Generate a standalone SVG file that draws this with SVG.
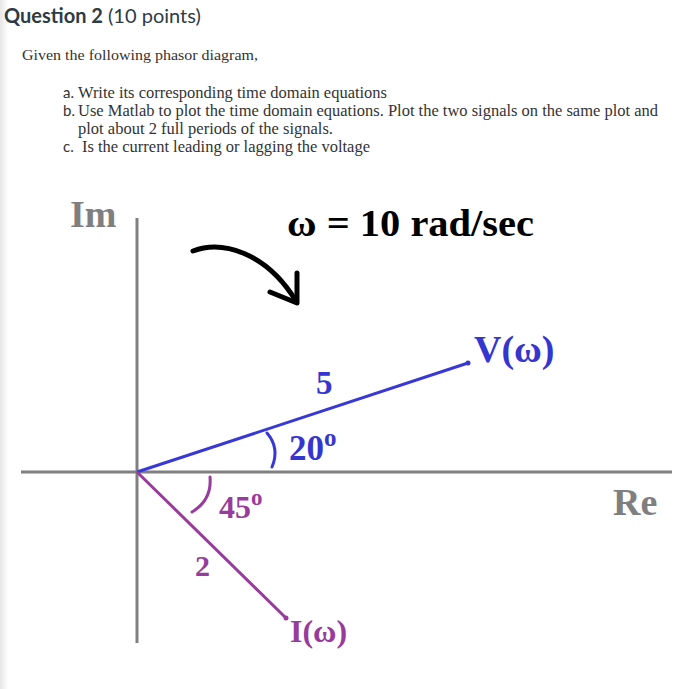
<svg xmlns="http://www.w3.org/2000/svg" width="683" height="689" viewBox="0 0 683 689">
<defs>
<linearGradient id="edge" x1="0" y1="0" x2="1" y2="0">
<stop offset="0" stop-color="#e6e6e6"/>
<stop offset="1" stop-color="#ffffff"/>
</linearGradient>
<style>
.title{font-family:Lato,"Liberation Sans",sans-serif;font-size:20px;fill:#2d3b45}
.body{font-family:"Liberation Serif","Times New Roman",serif;font-size:15.5px;fill:#333}
.list{font-family:"Liberation Serif","Times New Roman",serif;font-size:15.8px;fill:#333}
.mark{font-family:Lato,"Liberation Sans",sans-serif;font-size:15px;fill:#333}
.big{font-family:"Liberation Serif","Times New Roman",serif;font-weight:bold}
.axis{stroke:#808080;stroke-width:3;fill:none}
.vcol{fill:#3535d0}
.icol{fill:#973c9c}
</style>
</defs>
<rect width="683" height="689" fill="#ffffff"/>
<rect x="0" y="0" width="8" height="689" fill="url(#edge)"/>

<g id="header">
<text class="title" x="4" y="23"><tspan font-weight="bold">Question 2</tspan> (10 points)</text>
<text class="body" x="22" y="60" textLength="236" lengthAdjust="spacingAndGlyphs">Given the following phasor diagram,</text>
<text class="mark" x="63" y="98">a.</text>
<text class="list" x="78" y="98" textLength="309" lengthAdjust="spacingAndGlyphs">Write its corresponding time domain equations</text>
<text class="mark" x="63" y="116">b.</text>
<text class="list" x="78" y="116" textLength="580" lengthAdjust="spacingAndGlyphs">Use Matlab to plot the time domain equations. Plot the two signals on the same plot and</text>
<text class="list" x="78" y="134" textLength="255" lengthAdjust="spacingAndGlyphs">plot about 2 full periods of the signals.</text>
<text class="mark" x="63" y="152">c.</text>
<text class="list" x="82" y="152" textLength="288" lengthAdjust="spacingAndGlyphs">Is the current leading or lagging the voltage</text>
</g>

<g id="axes">
<line class="axis" x1="137" y1="218" x2="137" y2="643"/>
<line class="axis" x1="21" y1="472" x2="672" y2="472"/>
<text id="im-label" class="big" x="70" y="227" font-size="38" fill="#7f7f7f">Im</text>
<text id="re-label" class="big" x="613" y="515" font-size="38" fill="#7f7f7f">Re</text>
</g>

<g id="omega">
<text class="big" x="287" y="236" font-size="38" fill="#000" textLength="247" lengthAdjust="spacingAndGlyphs">ω = 10 rad/sec</text>
<path d="M193,251 C222,240 266,252 296,301" fill="none" stroke="#000" stroke-width="5" stroke-linecap="round"/>
<path d="M297,273 L297,303 L270,292" fill="none" stroke="#000" stroke-width="5" stroke-linecap="round" stroke-linejoin="round"/>
</g>

<g id="connectors">
<line id="v-phasor" x1="137" y1="472" x2="468" y2="363" stroke="#3838d6" stroke-width="3"/>
<circle cx="468" cy="363" r="2.5" fill="#3838d6"/>
<line id="i-phasor" x1="137" y1="472" x2="286" y2="618" stroke="#973c9c" stroke-width="3"/>
<circle cx="286" cy="618" r="2.5" fill="#973c9c"/>
</g>

<g id="v-node">
<text class="big vcol" x="474" y="362" font-size="38">V(ω)</text>
<text class="big vcol" x="316" y="394" font-size="33">5</text>
<path d="M267,433 Q280,448 272,467" fill="none" stroke="#3838d6" stroke-width="3" stroke-linecap="round"/>
<text class="big vcol" x="289" y="460" font-size="35">20<tspan font-size="25" dy="-14">o</tspan></text>
</g>

<g id="i-node">
<text class="big icol" x="290" y="642" font-size="32">I(ω)</text>
<text class="big icol" x="195" y="576" font-size="30">2</text>
<path d="M210,477 Q212,500 192,512" fill="none" stroke="#973c9c" stroke-width="3" stroke-linecap="round"/>
<text class="big icol" x="219" y="518" font-size="32">45<tspan font-size="23" dy="-13">o</tspan></text>
</g>
</svg>
